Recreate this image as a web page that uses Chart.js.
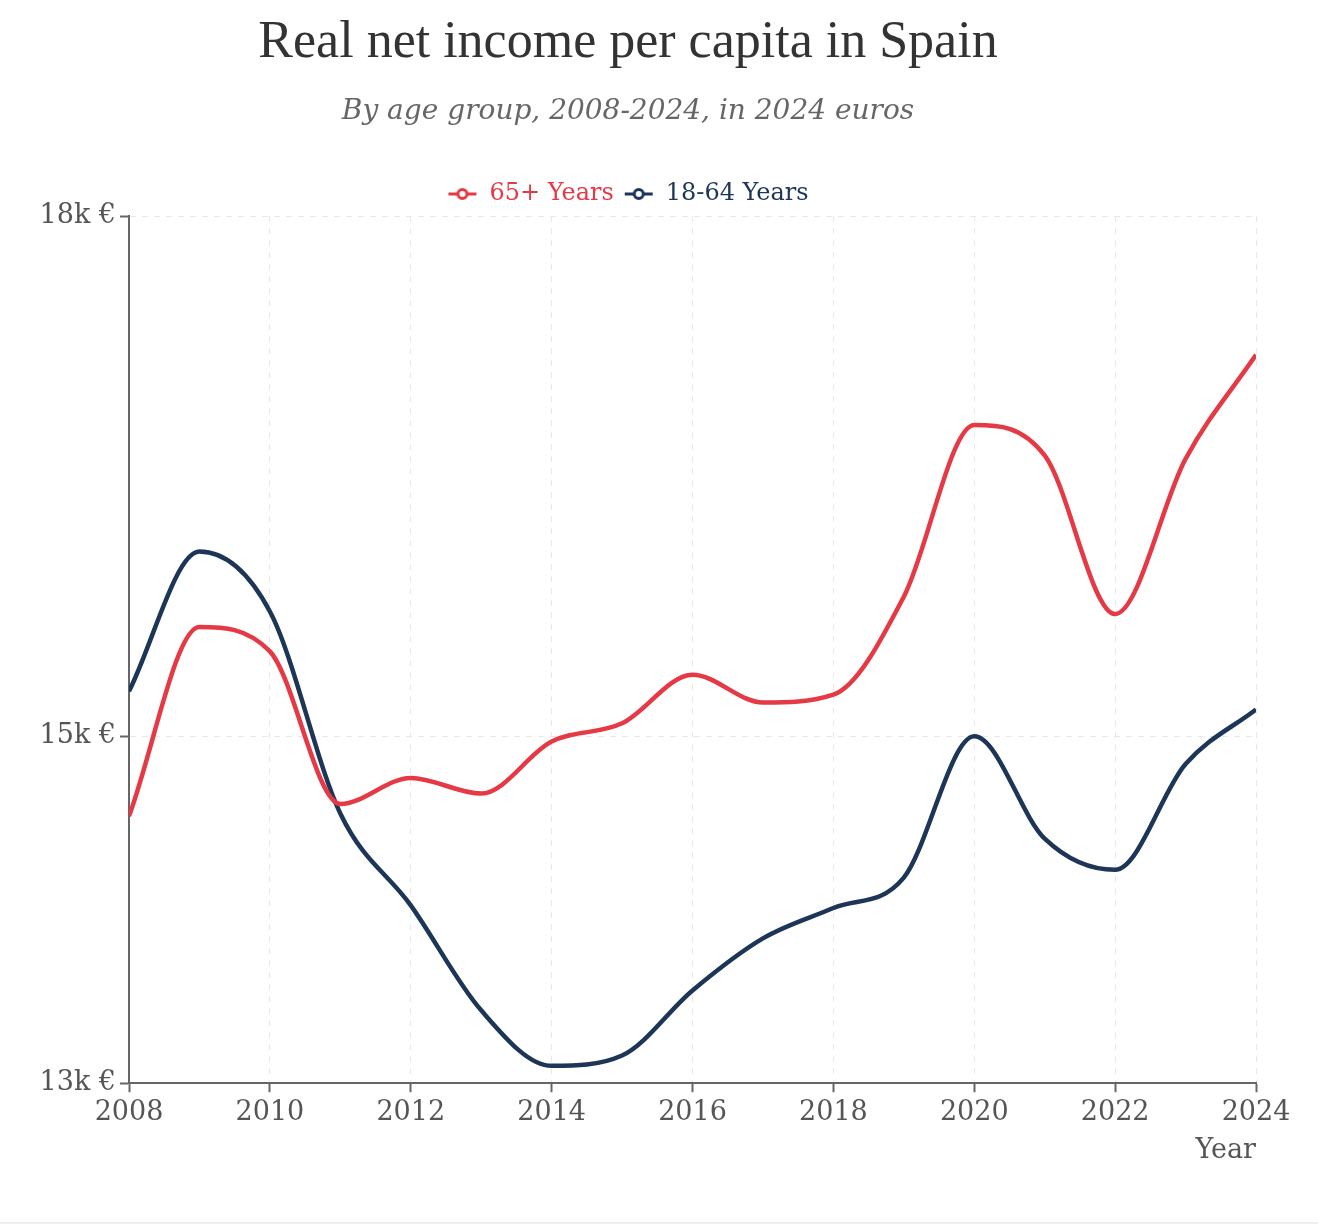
<!DOCTYPE html>
<html>
<head>
<meta charset="utf-8">
<script src="https://cdn.jsdelivr.net/npm/chart.js@4"></script>
<style>
  body { margin: 0; background: #fff; }
  #wrap { width: 1318px; height: 1232px; position: relative; }
</style>
</head>
<body>
<div id="wrap"><canvas id="chart" width="1318" height="1232"></canvas></div>
<script>
const years = [2008, 2009, 2010, 2011, 2012, 2013, 2014, 2015, 2016, 2017, 2018, 2019, 2020, 2021, 2022, 2023, 2024];
const seniors = [14540, 15630, 15490, 14610, 14760, 14670, 14970, 15075, 15355, 15195, 15240, 15805, 16795, 16620, 15705, 16600, 17200];
const workingAge = [15260, 16065, 15720, 14555, 14025, 13420, 13100, 13160, 13535, 13835, 14010, 14185, 15000, 14410, 14230, 14840, 15155];
const yTicks = [13000, 15000, 18000];

const RED = '#e63946';
const NAVY = '#1d3557';
const SERIF = '"DejaVu Serif", serif';

// little legend marker: line with an open circle
function marker(color) {
    const c = document.createElement('canvas');
    c.width = 30; c.height = 14;
    const g = c.getContext('2d');
    g.strokeStyle = color;
    g.lineWidth = 3;
    g.beginPath(); g.moveTo(1, 7); g.lineTo(29, 7); g.stroke();
    g.fillStyle = '#fff';
    g.beginPath(); g.arc(15, 7, 4.5, 0, Math.PI * 2); g.fill(); g.stroke();
    return c;
}

const toPoints = (vals) => vals.map((v, i) => ({ x: years[i], y: v }));

const bottomRule = {
    id: 'bottomRule',
    afterDraw(chart) {
        const ctx = chart.ctx;
        ctx.save();
        ctx.strokeStyle = '#eeeeee';
        ctx.lineWidth = 2;
        ctx.beginPath(); ctx.moveTo(0, 1223); ctx.lineTo(chart.width, 1223); ctx.stroke();
        ctx.restore();
    }
};

new Chart(document.getElementById('chart'), {
    type: 'line',
    data: {
        datasets: [
            { label: '65+ Years', data: toPoints(seniors), borderColor: RED, backgroundColor: RED },
            { label: '18-64 Years', data: toPoints(workingAge), borderColor: NAVY, backgroundColor: NAVY }
        ]
    },
    options: {
        responsive: false,
        animation: false,
        layout: { padding: { top: 10, right: 62, bottom: 61, left: 0 } },
        elements: {
            line: { borderWidth: 4.5, cubicInterpolationMode: 'monotone' },
            point: { radius: 0 }
        },
        plugins: {
            title: {
                display: true,
                text: 'Real net income per capita in Spain',
                color: '#333',
                font: { family: '"Liberation Serif", serif', size: 52, weight: 'normal' },
                padding: { top: 2, bottom: 21 }
            },
            subtitle: {
                display: true,
                text: 'By age group, 2008-2024, in 2024 euros',
                color: '#666',
                font: { family: SERIF, size: 28, style: 'italic' },
                padding: { bottom: 43 }
            },
            legend: {
                labels: {
                    usePointStyle: true,
                    pointStyleWidth: 30,
                    padding: 10,
                    font: { family: SERIF, size: 24 },
                    generateLabels(chart) {
                        return chart.data.datasets.map((ds, i) => ({
                            text: ds.label,
                            fontColor: ds.borderColor,
                            pointStyle: marker(ds.borderColor),
                            strokeStyle: ds.borderColor,
                            fillStyle: ds.borderColor,
                            lineWidth: 0,
                            datasetIndex: i
                        }));
                    }
                }
            },
            tooltip: { enabled: false }
        },
        scales: {
            x: {
                type: 'linear',
                min: 2008,
                max: 2024,
                ticks: { stepSize: 2, color: '#555', font: { family: SERIF, size: 27 }, padding: 5, callback: (v) => String(v) },
                grid: { color: '#e8e8e8', lineWidth: 1, tickColor: '#666', tickLength: 9, tickWidth: 2 },
                border: { color: '#666', width: 2, dash: [6, 6] },
                title: { display: true, text: 'Year', align: 'end', color: '#555', font: { family: SERIF, size: 27 }, padding: { top: 0 } }
            },
            y: {
                min: 13000,
                max: 18000,
                afterBuildTicks: (axis) => { axis.ticks = yTicks.map((v) => ({ value: v })); },
                afterFit: (axis) => { axis.width = 129; },
                ticks: { color: '#555', font: { family: SERIF, size: 27 }, padding: 4, callback: (v) => (v / 1000) + 'k €' },
                grid: { color: '#e8e8e8', lineWidth: 1, tickColor: '#666', tickLength: 9, tickWidth: 2 },
                border: { color: '#666', width: 2, dash: [6, 6] }
            }
        }
    },
    plugins: [bottomRule]
});
</script>
</body>
</html>
